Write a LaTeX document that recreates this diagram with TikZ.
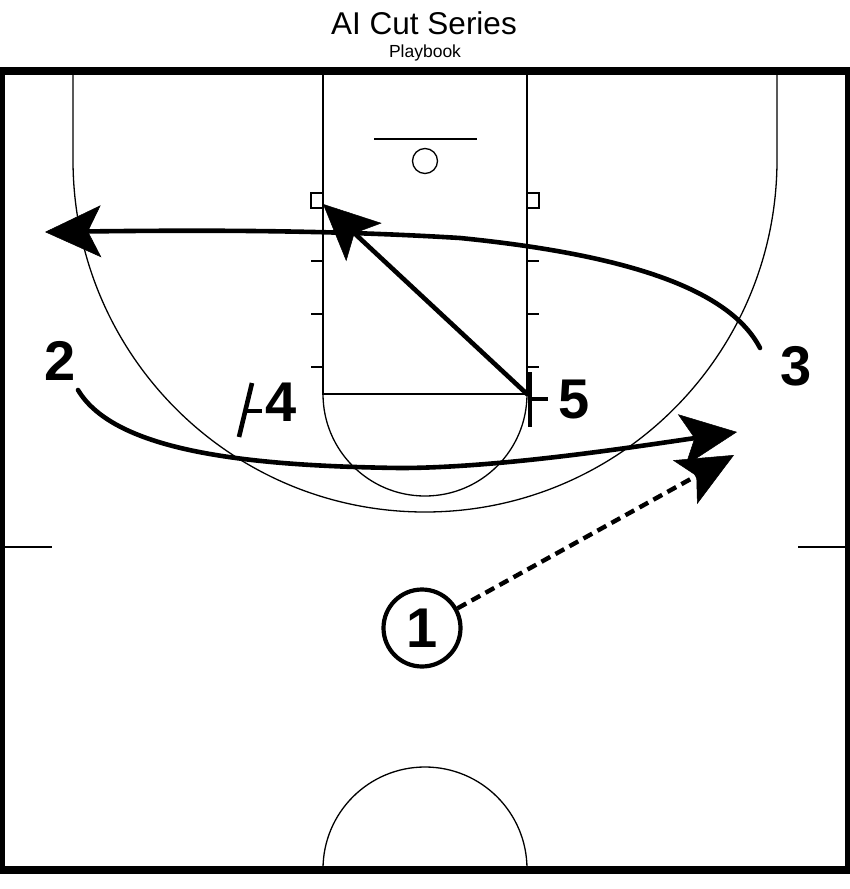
\documentclass[tikz,border=0pt]{standalone}
\usepackage{fontspec}
\setmainfont{Liberation Sans}
\usetikzlibrary{arrows.meta}
\tikzset{
  court/.style={line width=1.3pt, black},
  border/.style={line width=7.5pt, black},
  cut/.style={line width=4.6pt, line cap=round, -{Stealth[length=56pt,width=52pt,inset=13pt,line width=0.5pt]}},
  passline/.style={line width=4.4pt, dash pattern=on 10pt off 6pt, -{Stealth[length=56pt,width=50pt,inset=13pt,line width=0.5pt]}},
  screenmark/.style={line width=4.6pt},
  player/.style={inner sep=0pt, font=\fontsize{56}{56}\selectfont\bfseries},
  ballhandler/.style={draw, circle, line width=4.2pt, minimum size=77pt, inner sep=0pt, font=\fontsize{56}{56}\selectfont\bfseries},
}
\begin{document}
\begin{tikzpicture}[x=1pt,y=-1pt]
\useasboundingbox (0,0) rectangle (850,889);
\fill[white] (0,0) rectangle (850,889);
% titles
\node[inner sep=0pt, font=\fontsize{31.5}{31.5}\selectfont] (title) at (424,23) {AI Cut Series};
\node[inner sep=0pt, font=\fontsize{17.5}{17.5}\selectfont] (sub) at (425,53) {Playbook};
% court lines
\draw[court] (323,71) rectangle (527,394);
\draw[court] (527,394) arc[start angle=0,end angle=180,radius=102];
\draw[court] (374,139) -- (477,139);
\draw[court] (425,161) circle (12.5);
\draw[court] (311,193) rectangle (323,208);
\draw[court] (527,193) rectangle (539,208);
\foreach \yy in {261,314,367}{
  \draw[court] (311,\yy) -- (323,\yy);
  \draw[court] (527,\yy) -- (539,\yy);
}
\draw[court] (73,71) -- (73,160) arc[start angle=180,end angle=0,radius=352] -- (777,71);
\draw[court] (0,547) -- (52,547);
\draw[court] (798,547) -- (850,547);
\draw[court] (323,869) arc[start angle=180,end angle=360,radius=102];
\draw[border] (1.5,71) rectangle (848.5,870);
% players
\node[player] (p2) at (60,361) {2};
\node[player] (p3) at (796,366) {3};
\node[player] (p4) at (281,402) {4};
\node[player] (p5) at (574,400) {5};
\node[ballhandler] (p1) at (422,628) {1};
% screens
\draw[screenmark] (239,437) -- (252,383);
\draw[screenmark] (246,411) -- (262,411);
\draw[screenmark] (530,372) -- (530,427);
\draw[screenmark] (530,399) -- (548,399);
% coordinates for cuts
\coordinate (s5) at (527,394);
\coordinate (e5) at (323,204);
\coordinate (s3) at (760,348);
\coordinate (e3) at (45,232);
\coordinate (s2) at (78,390);
\coordinate (e2) at (737,432);
\coordinate (e1) at (734,455);
% cuts
\draw[cut] (s5) -- (e5);
\draw[cut] (s3) .. controls (730,290) and (630,255) .. (460,238) .. controls (330,230) and (200,230) .. (e3);
\draw[cut] (s2) .. controls (115,452) and (250,466) .. (400,468) .. controls (500,468) and (640,446) .. (e2);
\draw[passline] (p1) -- (e1);
\end{tikzpicture}
\end{document}
